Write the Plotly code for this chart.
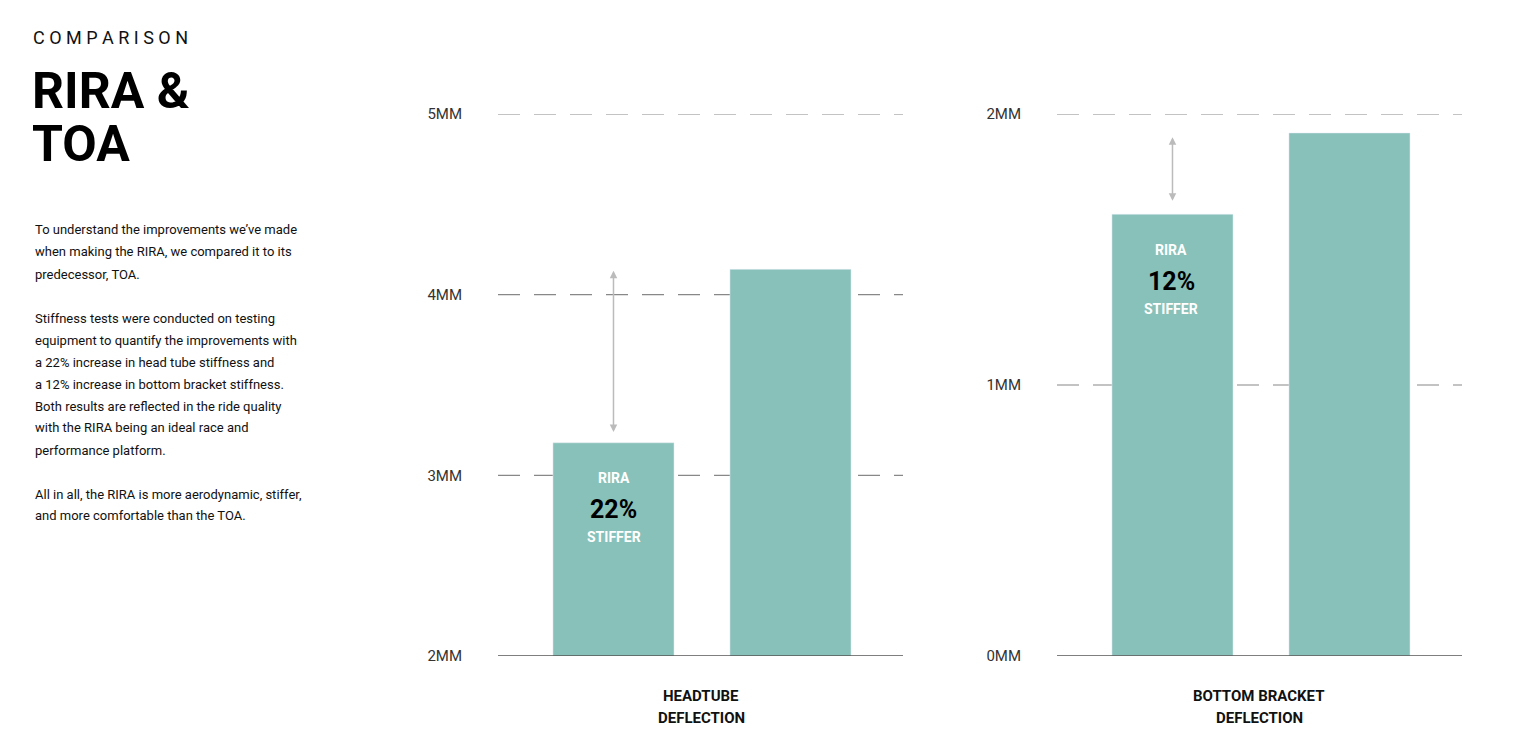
import plotly.graph_objects as go

cats = ["RIRA", "TOA"]
headtube = [3.18, 4.14]
bottom_bracket = [1.63, 1.93]
ht_ticks = [2, 3, 4, 5]
ht_ticktext = ["2MM", "3MM", "4MM", "5MM"]
bb_ticks = [0, 1, 2]
bb_ticktext = ["0MM", "1MM", "2MM"]
ht_pct = "22%"
bb_pct = "12%"

teal = "#88c1b9"
W, H = 1536, 753
F = "Roboto"
OFF = 8  # page body margin


def px(x):
    return (x - OFF) / W


def py(y):
    return 1 - (y - OFF) / H


fig = go.Figure()
fig.add_bar(x=[0, 1], y=headtube, width=0.684, marker_color=teal, xaxis="x", yaxis="y", hoverinfo="skip")
fig.add_bar(x=[0, 1], y=bottom_bracket, width=0.684, marker_color=teal, xaxis="x2", yaxis="y2", hoverinfo="skip")

yb, yt = py(656), py(114)
xr = [-0.6525, 1.6356]
ax_common = dict(showgrid=False, zeroline=False, showticklabels=False, range=xr, fixedrange=True, automargin=False)
y_common = dict(showgrid=False, zeroline=False, ticklabelstandoff=35, automargin=False,
                tickfont=dict(size=15, color="#333"))
fig.update_layout(
    width=W, height=H, margin=dict(l=0, r=0, t=0, b=0, autoexpand=False),
    paper_bgcolor="white", plot_bgcolor="white", showlegend=False,
    font=dict(family=F, color="#222"),
    xaxis=dict(domain=[px(498), px(903)], **ax_common),
    xaxis2=dict(domain=[px(1057), px(1462)], **ax_common),
    yaxis=dict(domain=[yb, yt], range=[2, 5], tickvals=ht_ticks, ticktext=ht_ticktext, anchor="x", **y_common),
    yaxis2=dict(domain=[yb, yt], range=[0, 2], tickvals=bb_ticks, ticktext=bb_ticktext, anchor="x2", **y_common),
)
# dashed gridlines
for v in ht_ticks[1:]:
    fig.add_shape(type="line", xref="x domain", yref="y", x0=0, x1=1, y0=v, y1=v,
                  line=dict(color="#888", width=1.2, dash="22px,14px"), layer="below")
for v in bb_ticks[1:]:
    fig.add_shape(type="line", xref="x2 domain", yref="y2", x0=0, x1=1, y0=v, y1=v,
                  line=dict(color="#888", width=1.2, dash="22px,14px"), layer="below")
# baselines
fig.add_shape(type="line", xref="x domain", yref="y", x0=0, x1=1, y0=2, y1=2, line=dict(color="#555", width=1.5))
fig.add_shape(type="line", xref="x2 domain", yref="y2", x0=0, x1=1, y0=0, y1=0, line=dict(color="#555", width=1.5))

# arrows
fig.add_annotation(x=0, y=headtube[0] + 0.06, ax=0, ay=headtube[1], xref="x", yref="y", axref="x", ayref="y",
                   text="", showarrow=True, arrowhead=2, arrowside="end+start", arrowcolor="#bbb", arrowwidth=1.5)
fig.add_annotation(x=0, y=bottom_bracket[0] + 0.05, ax=0, ay=bottom_bracket[1] - 0.01, xref="x2", yref="y2",
                   axref="x2", ayref="y2",
                   text="", showarrow=True, arrowhead=2, arrowside="end+start", arrowcolor="#bbb", arrowwidth=1.5)


def txt(x, y, text, size, color="#111", xanchor="center"):
    fig.add_annotation(x=px(x), y=py(y), xref="paper", yref="paper", text=text, showarrow=False,
                       xanchor=xanchor, yanchor="middle", align="left" if xanchor == "left" else "center",
                       font=dict(size=size, color=color, family=F))


def bar_text(xc, y0, pct):
    txt(xc, y0, "<b>RIRA</b>", 14, "white")
    txt(xc, y0 + 31, "<b>" + pct + "</b>", 25, "black")
    txt(xc, y0 + 59, "<b>STIFFER</b>", 14, "white")


bar_text(613.5, 478, ht_pct)
bar_text(1171, 250, bb_pct)

txt(701, 696, "<b>HEADTUBE</b>", 15)
txt(701, 718, "<b>DEFLECTION</b>", 15)
txt(1259, 696, "<b>BOTTOM BRACKET</b>", 15)
txt(1259, 718, "<b>DEFLECTION</b>", 15)

txt(31, 38, "C O M P A R I S O N", 18, xanchor="left")
txt(30, 91, "<b>RIRA &amp;</b>", 50, "black", xanchor="left")
txt(30, 144, "<b>TOA</b>", 50, "black", xanchor="left")

para = ["To understand the improvements we’ve made", "when making the RIRA, we compared it to its",
        "predecessor, TOA.", "", "Stiffness tests were conducted on testing",
        "equipment to quantify the improvements with", "a 22% increase in head tube stiffness and",
        "a 12% increase in bottom bracket stiffness.", "Both results are reflected in the ride quality",
        "with the RIRA being an ideal race and", "performance platform.", "",
        "All in all, the RIRA is more aerodynamic, stiffer,", "and more comfortable than the TOA."]
for i, line in enumerate(para):
    if line:
        txt(33, 230 + 22 * i, line, 13, xanchor="left")

fig.write_html("out.html")
